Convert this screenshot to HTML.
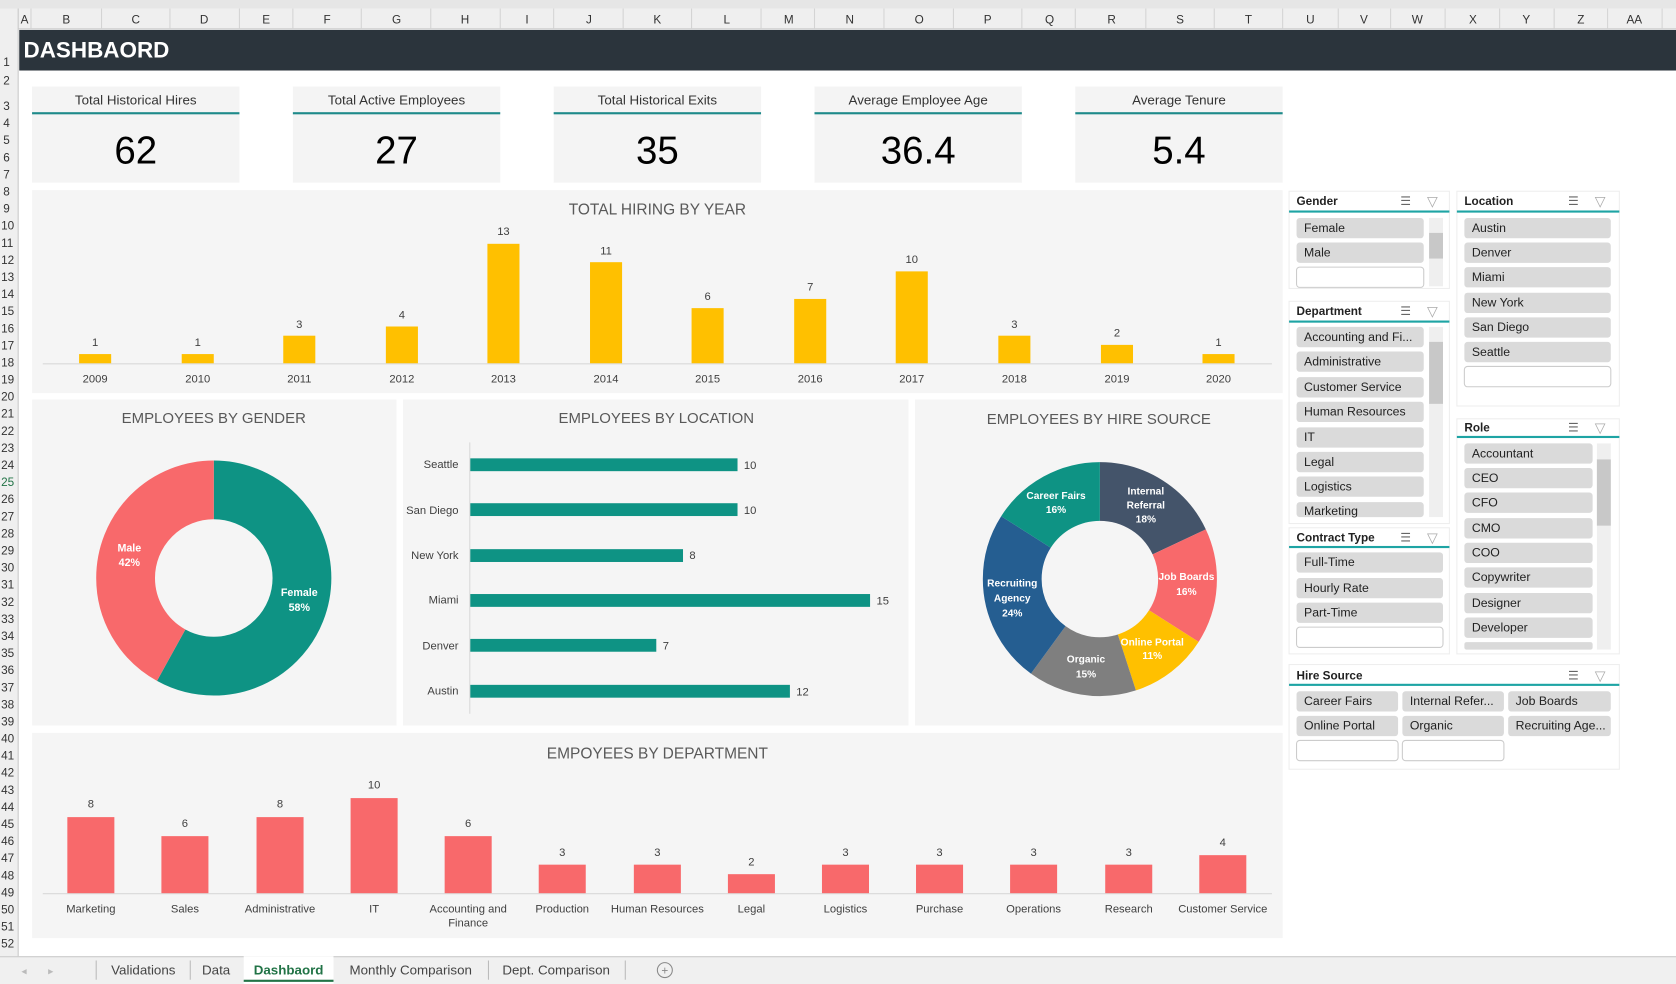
<!DOCTYPE html>
<html><head><meta charset="utf-8"><style>
html,body{margin:0;padding:0;background:#fff;overflow:hidden}
svg{display:block}
text{font-family:"Liberation Sans",sans-serif}
</style></head><body>
<svg width="1676" height="984" viewBox="0 0 1568 921" preserveAspectRatio="none" xmlns="http://www.w3.org/2000/svg">
<rect width="1568" height="921" fill="#fff"/>
<!-- top strip & headers -->
<rect x="0" y="0" width="1568" height="8" fill="#e6e6e6"/>
<rect x="0" y="8" width="1568" height="19" fill="#efefef"/>
<line x1="0" y1="27" x2="1568" y2="27" stroke="#c8c8c8"/>
<rect x="0" y="8" width="17" height="887" fill="#efefef"/>
<line x1="17" y1="8" x2="17" y2="895" stroke="#c8c8c8"/>
<g font-size="11" fill="#333" text-anchor="middle">
<text x="23" y="22">A</text><text x="62" y="22">B</text><text x="127" y="22">C</text><text x="191" y="22">D</text><text x="249" y="22">E</text><text x="306" y="22">F</text><text x="371" y="22">G</text><text x="435" y="22">H</text><text x="493" y="22">I</text><text x="551" y="22">J</text><text x="615" y="22">K</text><text x="680" y="22">L</text><text x="738" y="22">M</text><text x="795" y="22">N</text><text x="860" y="22">O</text><text x="924" y="22">P</text><text x="982" y="22">Q</text><text x="1040" y="22">R</text><text x="1104" y="22">S</text><text x="1168" y="22">T</text><text x="1226" y="22">U</text><text x="1276" y="22">V</text><text x="1326" y="22">W</text><text x="1378" y="22">X</text><text x="1428" y="22">Y</text><text x="1479" y="22">Z</text><text x="1529" y="22">AA</text>
</g>
<g stroke="#d4d4d4">
<line x1="29" y1="8" x2="29" y2="27"/><line x1="95" y1="8" x2="95" y2="27"/><line x1="159" y1="8" x2="159" y2="27"/><line x1="224" y1="8" x2="224" y2="27"/><line x1="274" y1="8" x2="274" y2="27"/><line x1="338" y1="8" x2="338" y2="27"/><line x1="403" y1="8" x2="403" y2="27"/><line x1="468" y1="8" x2="468" y2="27"/><line x1="518" y1="8" x2="518" y2="27"/><line x1="583" y1="8" x2="583" y2="27"/><line x1="647" y1="8" x2="647" y2="27"/><line x1="712" y1="8" x2="712" y2="27"/><line x1="762" y1="8" x2="762" y2="27"/><line x1="827" y1="8" x2="827" y2="27"/><line x1="892" y1="8" x2="892" y2="27"/><line x1="956" y1="8" x2="956" y2="27"/><line x1="1006" y1="8" x2="1006" y2="27"/><line x1="1072" y1="8" x2="1072" y2="27"/><line x1="1136" y1="8" x2="1136" y2="27"/><line x1="1200" y1="8" x2="1200" y2="27"/><line x1="1252" y1="8" x2="1252" y2="27"/><line x1="1301" y1="8" x2="1301" y2="27"/><line x1="1352" y1="8" x2="1352" y2="27"/><line x1="1403" y1="8" x2="1403" y2="27"/><line x1="1454" y1="8" x2="1454" y2="27"/><line x1="1504" y1="8" x2="1504" y2="27"/><line x1="1555" y1="8" x2="1555" y2="27"/>
</g>
<g font-size="11" fill="#333">
<text x="3" y="62">1</text><text x="3" y="79">2</text>
<text x="3" y="103">3</text><text x="3" y="119">4</text><text x="3" y="135">5</text><text x="3" y="151">6</text><text x="3" y="167">7</text><text x="3" y="183">8</text><text x="3" y="199">9</text><text x="1" y="215">10</text><text x="1" y="231">11</text><text x="1" y="247">12</text><text x="1" y="263">13</text><text x="1" y="279">14</text><text x="1" y="295">15</text><text x="1" y="311">16</text><text x="1" y="327">17</text><text x="1" y="343">18</text><text x="1" y="359">19</text><text x="1" y="375">20</text><text x="1" y="391">21</text><text x="1" y="407">22</text><text x="1" y="423">23</text><text x="1" y="439">24</text><text x="1" y="455" fill="#217346">25</text><text x="1" y="471">26</text><text x="1" y="487">27</text><text x="1" y="503">28</text><text x="1" y="519">29</text><text x="1" y="535">30</text><text x="1" y="551">31</text><text x="1" y="567">32</text><text x="1" y="583">33</text><text x="1" y="599">34</text><text x="1" y="615">35</text><text x="1" y="631">36</text><text x="1" y="647">37</text><text x="1" y="663">38</text><text x="1" y="679">39</text><text x="1" y="695">40</text><text x="1" y="711">41</text><text x="1" y="727">42</text><text x="1" y="743">43</text><text x="1" y="759">44</text><text x="1" y="775">45</text><text x="1" y="791">46</text><text x="1" y="807">47</text><text x="1" y="823">48</text><text x="1" y="839">49</text><text x="1" y="855">50</text><text x="1" y="871">51</text><text x="1" y="887">52</text>
</g>
<!-- title band -->
<rect x="18" y="28" width="1550" height="38" fill="#2b343c"/>
<text x="22" y="54" font-size="21" font-weight="bold" fill="#fff">DASHBAORD</text>

<!-- KPI cards -->
<g>
<rect x="30" y="81" width="194" height="90" fill="#f4f4f4"/>
<rect x="274" y="81" width="194" height="90" fill="#f4f4f4"/>
<rect x="518" y="81" width="194" height="90" fill="#f4f4f4"/>
<rect x="762" y="81" width="194" height="90" fill="#f4f4f4"/>
<rect x="1006" y="81" width="194" height="90" fill="#f4f4f4"/>
<g fill="#1e8a8a"><rect x="30" y="105" width="194" height="2"/><rect x="274" y="105" width="194" height="2"/><rect x="518" y="105" width="194" height="2"/><rect x="762" y="105" width="194" height="2"/><rect x="1006" y="105" width="194" height="2"/></g>
<g font-size="12.5" fill="#333" text-anchor="middle">
<text x="127" y="98">Total Historical Hires</text><text x="371" y="98">Total Active Employees</text><text x="615" y="98">Total Historical Exits</text><text x="859" y="98">Average Employee Age</text><text x="1103" y="98">Average Tenure</text></g>
<g font-size="36" fill="#000" text-anchor="middle">
<text x="127" y="153">62</text><text x="371" y="153">27</text><text x="615" y="153">35</text><text x="859" y="153">36.4</text><text x="1103" y="153">5.4</text></g>
</g>

<!-- Hiring by year -->
<rect x="30" y="178" width="1170" height="190" fill="#f5f5f5"/>
<text x="615" y="201" font-size="14.5" fill="#595959" text-anchor="middle">TOTAL HIRING BY YEAR</text>
<line x1="40" y1="340.5" x2="1190" y2="340.5" stroke="#d9d9d9"/>
<g fill="#ffc000">
<rect x="74" y="331.4" width="30" height="8.6"/><rect x="170" y="331.4" width="30" height="8.6"/><rect x="265" y="314.2" width="30" height="25.8"/><rect x="361" y="305.6" width="30" height="34.4"/><rect x="456" y="228.2" width="30" height="111.8"/><rect x="552" y="245.4" width="30" height="94.6"/><rect x="647" y="288.4" width="30" height="51.6"/><rect x="743" y="279.8" width="30" height="60.2"/><rect x="838" y="254" width="30" height="86"/><rect x="934" y="314.2" width="30" height="25.8"/><rect x="1030" y="322.8" width="30" height="17.2"/><rect x="1125" y="331.4" width="30" height="8.6"/>
</g>
<g font-size="10.5" fill="#404040" text-anchor="middle">
<text x="89" y="324">1</text><text x="185" y="324">1</text><text x="280" y="307">3</text><text x="376" y="298">4</text><text x="471" y="220">13</text><text x="567" y="238">11</text><text x="662" y="281">6</text><text x="758" y="272">7</text><text x="853" y="246">10</text><text x="949" y="307">3</text><text x="1045" y="315">2</text><text x="1140" y="324">1</text>
<text x="89" y="358">2009</text><text x="185" y="358">2010</text><text x="280" y="358">2011</text><text x="376" y="358">2012</text><text x="471" y="358">2013</text><text x="567" y="358">2014</text><text x="662" y="358">2015</text><text x="758" y="358">2016</text><text x="853" y="358">2017</text><text x="949" y="358">2018</text><text x="1045" y="358">2019</text><text x="1140" y="358">2020</text>
</g>

<!-- Gender -->
<rect x="30" y="374" width="341" height="305" fill="#f5f5f5"/>
<text x="200" y="396" font-size="14" fill="#595959" text-anchor="middle">EMPLOYEES BY GENDER</text>
<g transform="rotate(-90 200 541)" fill="none" stroke-width="55">
<circle cx="200" cy="541" r="82.5" stroke="#0e9384" stroke-dasharray="300.65 600"/>
<circle cx="200" cy="541" r="82.5" stroke="#f8696b" stroke-dasharray="217.71 600" stroke-dashoffset="-300.65"/>
</g>
<g font-size="10" font-weight="bold" fill="#fff" text-anchor="middle">
<text x="121" y="516">Male</text><text x="121" y="530">42%</text>
<text x="280" y="558">Female</text><text x="280" y="572">58%</text></g>

<!-- Location -->
<rect x="377" y="374" width="473" height="305" fill="#f5f5f5"/>
<text x="614" y="396" font-size="14" fill="#595959" text-anchor="middle">EMPLOYEES BY LOCATION</text>
<line x1="439.5" y1="414" x2="439.5" y2="668" stroke="#d9d9d9"/>
<g fill="#0e9384">
<rect x="440" y="429" width="250" height="12"/><rect x="440" y="471" width="250" height="12"/><rect x="440" y="514" width="199" height="12"/><rect x="440" y="556" width="374" height="12"/><rect x="440" y="598" width="174" height="12"/><rect x="440" y="641" width="299" height="12"/>
</g>
<g font-size="10.5" fill="#404040">
<g text-anchor="end"><text x="429" y="438">Seattle</text><text x="429" y="481">San Diego</text><text x="429" y="523">New York</text><text x="429" y="565">Miami</text><text x="429" y="608">Denver</text><text x="429" y="650">Austin</text></g>
<text x="696" y="439">10</text><text x="696" y="481">10</text><text x="645" y="523">8</text><text x="820" y="566">15</text><text x="620" y="608">7</text><text x="745" y="651">12</text>
</g>

<!-- Hire source -->
<rect x="856" y="374" width="344" height="305" fill="#f5f5f5"/>
<text x="1028" y="397" font-size="14" fill="#595959" text-anchor="middle">EMPLOYEES BY HIRE SOURCE</text>
<g transform="rotate(-90 1029 542)" fill="none" stroke-width="55">
<circle cx="1029" cy="542" r="82" stroke="#44546a" stroke-dasharray="92.74 600"/>
<circle cx="1029" cy="542" r="82" stroke="#f8696b" stroke-dasharray="82.43 600" stroke-dashoffset="-92.74"/>
<circle cx="1029" cy="542" r="82" stroke="#ffc000" stroke-dasharray="56.67 600" stroke-dashoffset="-175.17"/>
<circle cx="1029" cy="542" r="82" stroke="#7f7f7f" stroke-dasharray="77.28 600" stroke-dashoffset="-231.84"/>
<circle cx="1029" cy="542" r="82" stroke="#255e91" stroke-dasharray="123.65 600" stroke-dashoffset="-309.12"/>
<circle cx="1029" cy="542" r="82" stroke="#0e9384" stroke-dasharray="82.43 600" stroke-dashoffset="-432.77"/>
</g>
<g font-size="9.5" font-weight="bold" fill="#fff" text-anchor="middle">
<text x="988" y="467">Career Fairs</text><text x="988" y="480">16%</text>
<text x="1072" y="463">Internal</text><text x="1072" y="476">Referral</text><text x="1072" y="489">18%</text>
<text x="1110" y="543">Job Boards</text><text x="1110" y="557">16%</text>
<text x="1078" y="604">Online Portal</text><text x="1078" y="617">11%</text>
<text x="1016" y="620">Organic</text><text x="1016" y="634">15%</text>
<text x="947" y="549">Recruiting</text><text x="947" y="563">Agency</text><text x="947" y="577">24%</text>
</g>

<!-- Department -->
<rect x="30" y="686" width="1170" height="192" fill="#f5f5f5"/>
<text x="615" y="710" font-size="14.5" fill="#595959" text-anchor="middle">EMPOYEES BY DEPARTMENT</text>
<line x1="40" y1="836.5" x2="1190" y2="836.5" stroke="#d9d9d9"/>
<g fill="#f8696b">
<rect x="63" y="764.8" width="44" height="71.2"/><rect x="151" y="782.6" width="44" height="53.4"/><rect x="240" y="764.8" width="44" height="71.2"/><rect x="328" y="747" width="44" height="89"/><rect x="416" y="782.6" width="44" height="53.4"/><rect x="504" y="809.3" width="44" height="26.7"/><rect x="593" y="809.3" width="44" height="26.7"/><rect x="681" y="818.2" width="44" height="17.8"/><rect x="769" y="809.3" width="44" height="26.7"/><rect x="857" y="809.3" width="44" height="26.7"/><rect x="945" y="809.3" width="44" height="26.7"/><rect x="1034" y="809.3" width="44" height="26.7"/><rect x="1122" y="800.4" width="44" height="35.6"/>
</g>
<g font-size="10.5" fill="#404040" text-anchor="middle">
<text x="85" y="756">8</text><text x="173" y="774">6</text><text x="262" y="756">8</text><text x="350" y="738">10</text><text x="438" y="774">6</text><text x="526" y="801">3</text><text x="615" y="801">3</text><text x="703" y="810">2</text><text x="791" y="801">3</text><text x="879" y="801">3</text><text x="967" y="801">3</text><text x="1056" y="801">3</text><text x="1144" y="792">4</text>
<text x="85" y="854">Marketing</text><text x="173" y="854">Sales</text><text x="262" y="854">Administrative</text><text x="350" y="854">IT</text><text x="438" y="854">Accounting and</text><text x="438" y="867">Finance</text><text x="526" y="854">Production</text><text x="615" y="854">Human Resources</text><text x="703" y="854">Legal</text><text x="791" y="854">Logistics</text><text x="879" y="854">Purchase</text><text x="967" y="854">Operations</text><text x="1056" y="854">Research</text><text x="1144" y="854">Customer Service</text>
</g>

<!-- Slicers -->
<g font-size="11.5" fill="#222">
<!-- Gender -->
<rect x="1206" y="179" width="150" height="91" fill="#fff" stroke="#eee"/>
<text x="1213" y="192" font-weight="bold" font-size="11">Gender</text>
<text x="1310" y="192" font-size="11" fill="#666">☰</text><text x="1335" y="193" font-size="13" fill="#aaa">▽</text>
<rect x="1206" y="197" width="150" height="2" fill="#1ea4a4"/>
<rect x="1213" y="204" width="119" height="19" rx="3" fill="#dadada"/><text x="1220" y="217">Female</text>
<rect x="1213" y="227" width="119" height="19" rx="3" fill="#dadada"/><text x="1220" y="240">Male</text>
<rect x="1213" y="250" width="119" height="19" rx="3" fill="#fff" stroke="#ccc"/>
<rect x="1337" y="204" width="13" height="64" fill="#efefef"/><rect x="1337" y="218" width="13" height="24" fill="#c8c8c8"/>
<!-- Department -->
<rect x="1206" y="282" width="150" height="208" fill="#fff" stroke="#eee"/>
<text x="1213" y="295" font-weight="bold" font-size="11">Department</text>
<text x="1310" y="295" font-size="11" fill="#666">☰</text><text x="1335" y="296" font-size="13" fill="#aaa">▽</text>
<rect x="1206" y="300" width="150" height="2" fill="#1ea4a4"/>
<rect x="1213" y="306" width="119" height="19" rx="3" fill="#dadada"/><text x="1220" y="319">Accounting and Fi...</text>
<rect x="1213" y="329" width="119" height="19" rx="3" fill="#dadada"/><text x="1220" y="342">Administrative</text>
<rect x="1213" y="353" width="119" height="19" rx="3" fill="#dadada"/><text x="1220" y="366">Customer Service</text>
<rect x="1213" y="376" width="119" height="19" rx="3" fill="#dadada"/><text x="1220" y="389">Human Resources</text>
<rect x="1213" y="400" width="119" height="19" rx="3" fill="#dadada"/><text x="1220" y="413">IT</text>
<rect x="1213" y="423" width="119" height="19" rx="3" fill="#dadada"/><text x="1220" y="436">Legal</text>
<rect x="1213" y="446" width="119" height="19" rx="3" fill="#dadada"/><text x="1220" y="459">Logistics</text>
<rect x="1213" y="470" width="119" height="14" rx="3" fill="#dadada"/><text x="1220" y="482">Marketing</text>
<rect x="1337" y="306" width="13" height="178" fill="#efefef"/><rect x="1337" y="320" width="13" height="58" fill="#c8c8c8"/>
<!-- Contract -->
<rect x="1206" y="494" width="150" height="118" fill="#fff" stroke="#eee"/>
<text x="1213" y="507" font-weight="bold" font-size="11">Contract Type</text>
<text x="1310" y="507" font-size="11" fill="#666">☰</text><text x="1335" y="508" font-size="13" fill="#aaa">▽</text>
<rect x="1206" y="511" width="150" height="2" fill="#1ea4a4"/>
<rect x="1213" y="517" width="137" height="19" rx="3" fill="#dadada"/><text x="1220" y="530">Full-Time</text>
<rect x="1213" y="541" width="137" height="19" rx="3" fill="#dadada"/><text x="1220" y="554">Hourly Rate</text>
<rect x="1213" y="564" width="137" height="19" rx="3" fill="#dadada"/><text x="1220" y="577">Part-Time</text>
<rect x="1213" y="587" width="137" height="19" rx="3" fill="#fff" stroke="#ccc"/>
<!-- Location -->
<rect x="1363" y="179" width="152" height="201" fill="#fff" stroke="#eee"/>
<text x="1370" y="192" font-weight="bold" font-size="11">Location</text>
<text x="1467" y="192" font-size="11" fill="#666">☰</text><text x="1492" y="193" font-size="13" fill="#aaa">▽</text>
<rect x="1363" y="197" width="152" height="2" fill="#1ea4a4"/>
<rect x="1370" y="204" width="137" height="19" rx="3" fill="#dadada"/><text x="1377" y="217">Austin</text>
<rect x="1370" y="227" width="137" height="19" rx="3" fill="#dadada"/><text x="1377" y="240">Denver</text>
<rect x="1370" y="250" width="137" height="19" rx="3" fill="#dadada"/><text x="1377" y="263">Miami</text>
<rect x="1370" y="274" width="137" height="19" rx="3" fill="#dadada"/><text x="1377" y="287">New York</text>
<rect x="1370" y="297" width="137" height="19" rx="3" fill="#dadada"/><text x="1377" y="310">San Diego</text>
<rect x="1370" y="320" width="137" height="19" rx="3" fill="#dadada"/><text x="1377" y="333">Seattle</text>
<rect x="1370" y="343" width="137" height="19" rx="3" fill="#fff" stroke="#ccc"/>
<!-- Role -->
<rect x="1363" y="392" width="152" height="220" fill="#fff" stroke="#eee"/>
<text x="1370" y="404" font-weight="bold" font-size="11">Role</text>
<text x="1467" y="404" font-size="11" fill="#666">☰</text><text x="1492" y="405" font-size="13" fill="#aaa">▽</text>
<rect x="1363" y="408" width="152" height="2" fill="#1ea4a4"/>
<rect x="1370" y="415" width="120" height="19" rx="3" fill="#dadada"/><text x="1377" y="428">Accountant</text>
<rect x="1370" y="438" width="120" height="19" rx="3" fill="#dadada"/><text x="1377" y="451">CEO</text>
<rect x="1370" y="461" width="120" height="19" rx="3" fill="#dadada"/><text x="1377" y="474">CFO</text>
<rect x="1370" y="485" width="120" height="19" rx="3" fill="#dadada"/><text x="1377" y="498">CMO</text>
<rect x="1370" y="508" width="120" height="19" rx="3" fill="#dadada"/><text x="1377" y="521">COO</text>
<rect x="1370" y="531" width="120" height="19" rx="3" fill="#dadada"/><text x="1377" y="544">Copywriter</text>
<rect x="1370" y="555" width="120" height="19" rx="3" fill="#dadada"/><text x="1377" y="568">Designer</text>
<rect x="1370" y="578" width="120" height="19" rx="3" fill="#dadada"/><text x="1377" y="591">Developer</text>
<rect x="1370" y="601" width="120" height="7" rx="2" fill="#dadada"/>
<rect x="1494" y="415" width="13" height="193" fill="#efefef"/><rect x="1494" y="430" width="13" height="62" fill="#c8c8c8"/>
<!-- Hire Source -->
<rect x="1206" y="622" width="309" height="98" fill="#fff" stroke="#eee"/>
<text x="1213" y="636" font-weight="bold" font-size="11">Hire Source</text>
<text x="1467" y="636" font-size="11" fill="#666">☰</text><text x="1492" y="637" font-size="13" fill="#aaa">▽</text>
<rect x="1206" y="640" width="309" height="2" fill="#1ea4a4"/>
<rect x="1213" y="647" width="95" height="19" rx="3" fill="#dadada"/><text x="1220" y="660">Career Fairs</text>
<rect x="1312" y="647" width="95" height="19" rx="3" fill="#dadada"/><text x="1319" y="660">Internal Refer...</text>
<rect x="1411" y="647" width="96" height="19" rx="3" fill="#dadada"/><text x="1418" y="660">Job Boards</text>
<rect x="1213" y="670" width="95" height="19" rx="3" fill="#dadada"/><text x="1220" y="683">Online Portal</text>
<rect x="1312" y="670" width="95" height="19" rx="3" fill="#dadada"/><text x="1319" y="683">Organic</text>
<rect x="1411" y="670" width="96" height="19" rx="3" fill="#dadada"/><text x="1418" y="683">Recruiting Age...</text>
<rect x="1213" y="693" width="95" height="19" rx="3" fill="#fff" stroke="#ccc"/>
<rect x="1312" y="693" width="95" height="19" rx="3" fill="#fff" stroke="#ccc"/>
</g>

<!-- Tab bar -->
<rect x="0" y="895" width="1568" height="26" fill="#f0f0f0"/>
<line x1="0" y1="895.5" x2="1568" y2="895.5" stroke="#c6c6c6"/>
<g font-size="12.5" fill="#444">
<text x="20" y="912" fill="#bbb" font-size="10">◂</text><text x="45" y="912" fill="#bbb" font-size="10">▸</text>
<line x1="90" y1="899" x2="90" y2="917" stroke="#bbb"/>
<text x="104" y="912">Validations</text>
<line x1="178" y1="899" x2="178" y2="917" stroke="#bbb"/>
<text x="189" y="912">Data</text>
<rect x="228" y="895" width="84" height="26" fill="#fff"/>
<rect x="228" y="917" width="84" height="2" fill="#217346"/>
<text x="270" y="912" text-anchor="middle" font-weight="bold" fill="#217346">Dashbaord</text>
<text x="327" y="912">Monthly Comparison</text>
<line x1="457" y1="899" x2="457" y2="917" stroke="#bbb"/>
<text x="470" y="912">Dept. Comparison</text>
<line x1="585" y1="899" x2="585" y2="917" stroke="#bbb"/>
<circle cx="622" cy="908" r="7" fill="none" stroke="#888"/>
<text x="622" y="912" text-anchor="middle" font-size="11" fill="#888">+</text>
</g>
</svg>
</body></html>
